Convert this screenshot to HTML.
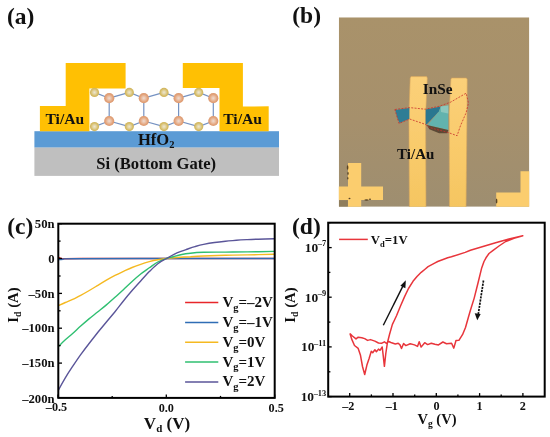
<!DOCTYPE html>
<html><head><meta charset="utf-8"><title>InSe FET figure</title>
<style>
html,body{margin:0;padding:0;background:#fff;}
body{width:550px;height:437px;overflow:hidden;}
svg{display:block;}
text{font-family:"Liberation Serif","Times New Roman",serif;font-weight:bold;fill:#111;}
.pl{font-size:23.5px;}
.tk{font-size:12.2px;}
</style></head><body>
<svg width="550" height="437" viewBox="0 0 550 437">
<defs>
<radialGradient id="gse" cx="50%" cy="50%" r="50%"><stop offset="0" stop-color="#ece6d2"/><stop offset="0.4" stop-color="#e2d3a0"/><stop offset="0.75" stop-color="#d6bd6a"/><stop offset="1" stop-color="#cfb35a"/></radialGradient>
<radialGradient id="gin" cx="50%" cy="50%" r="50%"><stop offset="0" stop-color="#eedcd2"/><stop offset="0.4" stop-color="#eabfa4"/><stop offset="0.75" stop-color="#e2a27a"/><stop offset="1" stop-color="#dc986e"/></radialGradient>
<filter id="bl" x="-5%" y="-5%" width="110%" height="110%"><feGaussianBlur stdDeviation="0.7"/></filter>
<filter id="bl2" x="-5%" y="-5%" width="110%" height="110%"><feGaussianBlur stdDeviation="0.75"/></filter>
<clipPath id="cpb"><rect x="338.8" y="17.3" width="190.4" height="189.4"/></clipPath>
<linearGradient id="gbg" x1="0" y1="0" x2="0" y2="1"><stop offset="0" stop-color="#a9926a"/><stop offset="0.55" stop-color="#a6906c"/><stop offset="1" stop-color="#9e8e70"/></linearGradient>
<linearGradient id="gel" x1="0" y1="0" x2="0" y2="1"><stop offset="0" stop-color="#fbd079"/><stop offset="0.5" stop-color="#f9cb6c"/><stop offset="1" stop-color="#f5c560"/></linearGradient>
</defs>
<rect width="550" height="437" fill="#fff"/>

<!-- (a) schematic -->
<text class="pl" x="7.0" y="23.5">(a)</text>
<rect x="34.4" y="147.3" width="244.6" height="28.6" fill="#bfbfbf"/>
<rect x="34.4" y="131.2" width="244.6" height="16.2" fill="#5b9bd5"/>
<polygon points="39.9,106 65.7,106 65.7,63.1 125.6,63.1 125.6,88.6 89.4,88.6 89.4,131.2 39.9,131.2" fill="#ffc003"/>
<polygon points="268.7,106.3 242.9,106.5 242.9,63.1 182.8,63.1 182.8,88 219.5,88 219.5,131.2 268.7,131.2" fill="#ffc003"/>
<g stroke="#7592c2" stroke-width="1.2"><line x1="94.5" y1="92.4" x2="109.2" y2="98.2"/><line x1="94.5" y1="126.6" x2="109.2" y2="121.0"/><line x1="129.3" y1="92.4" x2="143.8" y2="98.2"/><line x1="129.3" y1="126.6" x2="143.8" y2="121.0"/><line x1="129.3" y1="92.4" x2="109.2" y2="98.2"/><line x1="129.3" y1="126.6" x2="109.2" y2="121.0"/><line x1="164.0" y1="92.4" x2="178.6" y2="98.2"/><line x1="164.0" y1="126.6" x2="178.6" y2="121.0"/><line x1="164.0" y1="92.4" x2="143.8" y2="98.2"/><line x1="164.0" y1="126.6" x2="143.8" y2="121.0"/><line x1="198.7" y1="92.4" x2="213.3" y2="98.2"/><line x1="198.7" y1="126.6" x2="213.3" y2="121.0"/><line x1="198.7" y1="92.4" x2="178.6" y2="98.2"/><line x1="198.7" y1="126.6" x2="178.6" y2="121.0"/><line x1="109.2" y1="98.2" x2="109.2" y2="121.0"/><line x1="143.8" y1="98.2" x2="143.8" y2="121.0"/><line x1="178.6" y1="98.2" x2="178.6" y2="121.0"/><line x1="213.3" y1="98.2" x2="213.3" y2="121.0"/></g>
<circle cx="94.5" cy="92.4" r="4.6" fill="url(#gse)"/><circle cx="94.5" cy="126.6" r="4.6" fill="url(#gse)"/><circle cx="129.3" cy="92.4" r="4.6" fill="url(#gse)"/><circle cx="129.3" cy="126.6" r="4.6" fill="url(#gse)"/><circle cx="164.0" cy="92.4" r="4.6" fill="url(#gse)"/><circle cx="164.0" cy="126.6" r="4.6" fill="url(#gse)"/><circle cx="198.7" cy="92.4" r="4.6" fill="url(#gse)"/><circle cx="198.7" cy="126.6" r="4.6" fill="url(#gse)"/><circle cx="109.2" cy="98.2" r="5.1" fill="url(#gin)"/><circle cx="109.2" cy="121.0" r="5.1" fill="url(#gin)"/><circle cx="143.8" cy="98.2" r="5.1" fill="url(#gin)"/><circle cx="143.8" cy="121.0" r="5.1" fill="url(#gin)"/><circle cx="178.6" cy="98.2" r="5.1" fill="url(#gin)"/><circle cx="178.6" cy="121.0" r="5.1" fill="url(#gin)"/><circle cx="213.3" cy="98.2" r="5.1" fill="url(#gin)"/><circle cx="213.3" cy="121.0" r="5.1" fill="url(#gin)"/>
<text x="64.8" y="124.4" font-size="15.6" text-anchor="middle">Ti/Au</text>
<text x="242.6" y="124.4" font-size="15.6" text-anchor="middle">Ti/Au</text>
<text x="156.2" y="144.9" font-size="16.6" text-anchor="middle">HfO<tspan font-size="10.5" dy="3.4">2</tspan></text>
<text x="156.2" y="168.8" font-size="16.6" text-anchor="middle">Si (Bottom Gate)</text>

<!-- (b) optical image -->
<text class="pl" x="292.3" y="23.3">(b)</text>
<g clip-path="url(#cpb)">
<rect x="338.8" y="17.3" width="190.7" height="189.5" fill="url(#gbg)"/>
<g filter="url(#bl2)">
<polygon points="411,76.6 426.6,76.6 427.3,78 425.6,115 426,212 409.4,212 408.9,115 410.2,78" fill="url(#gel)" stroke="#d9a65c" stroke-width="0.6"/>
<polygon points="451.6,78 466.4,78 467.2,79.5 467,112 466,212 449.5,212 449.2,112 450.9,79.5" fill="url(#gel)" stroke="#d9a65c" stroke-width="0.6"/>
<polygon points="348,163 361.2,163 361.2,186.4 383,186.4 383,200.1 361.2,200.1 361.2,212 348,212 348,200.1 334,200.1 334,186.4 348,186.4" fill="#fbcd6e"/>
<polygon points="520.5,171.3 535,171.3 535,212 496.2,212 496.2,192.6 520.5,192.6" fill="#fbcd6e"/>
</g>
<g filter="url(#bl)">
<polygon points="395.2,110 409.4,108 409.4,118.8 399.6,123 397.4,118" fill="#2e7d95"/>
<polygon points="425.7,109.5 440.7,106.6 439.1,111.2 426.8,124.3 425.7,124.3" fill="#2a7790"/>
<polygon points="440.7,106.6 448.3,105.4 448.3,130 427.6,125.1 439.1,111.2" fill="#62b3ae"/>
<polygon points="440.7,106.6 448.3,105.4 448.3,113.5 441,112" fill="#8cc7bd"/>
<polygon points="426.8,125.1 448.3,130 447.3,133.3 439.1,133.3 429.3,129.2" fill="#5c4a36"/>
</g>
<g fill="#5a4426" filter="url(#bl)">
<ellipse cx="347.6" cy="167.5" rx="0.8" ry="2.2"/><ellipse cx="348" cy="173.5" rx="0.7" ry="1.4"/><ellipse cx="347.8" cy="178.3" rx="0.6" ry="1.2"/>
<ellipse cx="349.5" cy="198.5" rx="1" ry="0.7"/><ellipse cx="366.5" cy="200" rx="2.2" ry="0.8"/><ellipse cx="370" cy="199.3" rx="1" ry="0.7"/>
<ellipse cx="496.6" cy="201" rx="0.8" ry="2.6"/>
</g>
<rect x="338.8" y="200.3" width="9" height="6.5" fill="#8f7d5c" filter="url(#bl)"/>
<polygon points="394.9,109.5 409.6,107.6 425.2,109.2 439.1,106.3 450.5,102.2 466.1,93.2 468.5,103 466.1,112.8 460.4,125.9 457.1,135.7 448.1,132.5 429.3,127.5 425.2,124.3 409.6,119 399,123.5" fill="none" stroke="#c9302c" stroke-width="0.8" stroke-dasharray="2 1.3"/>
</g>
<text x="437.6" y="94.2" font-size="15.3" text-anchor="middle">InSe</text>
<text x="415.7" y="158.5" font-size="15" text-anchor="middle">Ti/Au</text>

<!-- (c) output curves -->
<text class="pl" x="7.3" y="234">(c)</text>
<path d="M58.4,257.3 C58.8,257.4 59.6,258.0 60.5,258.2 C61.4,258.4 60.8,258.6 64.0,258.7 C67.2,258.8 62.9,258.5 80.0,258.5 C97.1,258.5 134.2,258.5 166.5,258.5 C198.8,258.5 256.1,258.5 274.0,258.5" fill="none" stroke="#e8262a" stroke-width="1.4" stroke-linejoin="round"/>
<path d="M58.4,259.8 C59.2,259.7 60.2,259.4 63.0,259.2 C65.8,259.0 57.8,258.9 75.0,258.8 C92.2,258.7 133.3,258.6 166.5,258.5 C199.7,258.4 256.1,258.5 274.0,258.5" fill="none" stroke="#2f6db5" stroke-width="1.4" stroke-linejoin="round"/>
<path d="M58.4,305.6 C59.5,305.1 63.0,303.5 65.3,302.5 C67.6,301.5 69.5,300.9 72.1,299.7 C74.7,298.5 77.8,296.8 80.7,295.3 C83.6,293.8 86.4,292.2 89.3,290.5 C92.2,288.8 95.1,287.0 97.9,285.3 C100.8,283.6 103.6,281.9 106.4,280.2 C109.2,278.5 112.1,276.9 115.0,275.4 C117.9,273.9 120.8,272.6 123.6,271.3 C126.4,270.0 129.2,268.6 132.1,267.5 C134.9,266.4 137.8,265.4 140.7,264.4 C143.6,263.4 146.5,262.5 149.3,261.7 C152.2,260.9 154.9,260.3 157.8,259.8 C160.7,259.3 163.2,258.9 166.5,258.5 C169.8,258.1 173.5,257.8 177.5,257.5 C181.5,257.2 186.2,256.9 190.5,256.7 C194.8,256.4 197.8,256.2 203.6,256.0 C209.4,255.8 218.2,255.5 225.5,255.3 C232.8,255.1 239.2,255.1 247.3,254.9 C255.4,254.7 269.6,254.4 274.0,254.3" fill="none" stroke="#f5b921" stroke-width="1.4" stroke-linejoin="round"/>
<path d="M58.4,346.6 C59.5,345.5 63.0,341.9 65.3,339.8 C67.6,337.7 69.5,336.3 72.1,334.0 C74.7,331.7 77.8,328.7 80.7,326.1 C83.6,323.5 86.4,321.0 89.3,318.6 C92.2,316.2 95.1,314.0 97.9,311.7 C100.8,309.4 103.6,307.3 106.4,304.9 C109.2,302.5 112.1,299.9 115.0,297.3 C117.9,294.7 120.8,292.0 123.6,289.4 C126.4,286.8 129.2,284.1 132.1,281.5 C134.9,278.9 137.8,276.3 140.7,274.0 C143.6,271.7 146.5,269.8 149.3,267.8 C152.2,265.8 154.9,263.6 157.8,262.0 C160.7,260.4 163.9,259.4 166.5,258.5 C169.1,257.6 170.5,257.4 173.1,256.7 C175.7,256.0 178.9,255.1 181.8,254.5 C184.7,253.9 186.9,253.6 190.5,253.2 C194.1,252.8 197.8,252.5 203.6,252.3 C209.4,252.1 218.2,252.2 225.5,252.1 C232.8,252.0 239.2,252.0 247.3,251.9 C255.4,251.8 269.6,251.5 274.0,251.4" fill="none" stroke="#2fbf71" stroke-width="1.4" stroke-linejoin="round"/>
<path d="M58.4,390.2 C59.5,388.1 63.0,381.6 65.3,377.8 C67.6,374.0 69.5,371.1 72.1,367.2 C74.7,363.3 77.8,358.6 80.7,354.6 C83.6,350.6 86.4,346.9 89.3,343.2 C92.2,339.5 95.1,335.8 97.9,332.3 C100.8,328.8 103.6,325.4 106.4,322.0 C109.2,318.6 112.1,315.2 115.0,311.7 C117.9,308.1 120.8,304.2 123.6,300.7 C126.4,297.2 129.2,293.8 132.1,290.5 C134.9,287.2 137.8,284.0 140.7,280.9 C143.6,277.8 146.5,274.5 149.3,271.6 C152.2,268.7 154.9,265.9 157.8,263.7 C160.7,261.5 164.3,259.8 166.5,258.5 C168.7,257.2 169.1,257.0 170.9,256.0 C172.7,255.0 174.9,253.8 177.5,252.7 C180.1,251.6 183.3,250.5 186.2,249.5 C189.1,248.5 192.0,247.4 194.9,246.6 C197.8,245.8 200.3,245.1 203.6,244.4 C206.9,243.7 210.8,243.0 214.5,242.5 C218.2,242.0 221.8,241.6 225.5,241.2 C229.2,240.8 232.8,240.6 236.4,240.3 C240.0,240.0 243.7,239.8 247.3,239.6 C250.9,239.4 253.8,239.3 258.2,239.2 C262.6,239.1 271.4,238.9 274.0,238.8" fill="none" stroke="#5a5599" stroke-width="1.4" stroke-linejoin="round"/>

<rect x="58.3" y="223.7" width="216.4" height="174.2" fill="none" stroke="#000" stroke-width="2"/>
<g stroke="#000" stroke-width="1.3"><line x1="58.3" y1="223.7" x2="62" y2="223.7"/><line x1="58.3" y1="258.5" x2="62" y2="258.5"/><line x1="58.3" y1="293.4" x2="62" y2="293.4"/><line x1="58.3" y1="328.2" x2="62" y2="328.2"/><line x1="58.3" y1="363.1" x2="62" y2="363.1"/><line x1="58.3" y1="241.1" x2="60.6" y2="241.1"/><line x1="58.3" y1="276.0" x2="60.6" y2="276.0"/><line x1="58.3" y1="310.8" x2="60.6" y2="310.8"/><line x1="58.3" y1="345.6" x2="60.6" y2="345.6"/><line x1="58.0" y1="397.9" x2="58.0" y2="394.4"/><line x1="112.2" y1="397.9" x2="112.2" y2="395.9"/><line x1="166.3" y1="397.9" x2="166.3" y2="394.4"/><line x1="220.5" y1="397.9" x2="220.5" y2="395.9"/><line x1="274.7" y1="397.9" x2="274.7" y2="394.4"/></g>
<g class="tk" text-anchor="end" style="font-size:12.7px">
<text x="54.6" y="227.9">50n</text>
<text x="54.6" y="262.8">0</text>
<text x="54.6" y="297.5">–50n</text>
<text x="54.6" y="332.2">–100n</text>
<text x="54.6" y="366.9">–150n</text>
<text x="54.6" y="402.5">–200n</text>
</g>
<g class="tk" text-anchor="middle">
<text x="56.5" y="410.8">–0.5</text>
<text x="166.3" y="411.5">0.0</text>
<text x="276.2" y="411.5">0.5</text>
</g>
<text x="167" y="428.8" font-size="17" text-anchor="middle">V<tspan font-size="11" dy="3.5">d</tspan><tspan dy="-3.5"> (V)</tspan></text>
<text transform="translate(18.3,305) rotate(-90)" font-size="14.8" text-anchor="middle">I<tspan font-size="9.8" dy="3">d</tspan><tspan dy="-3"> (A)</tspan></text>
<g stroke-width="1.5" fill="none">
<line x1="185.1" y1="302.6" x2="218.3" y2="302.6" stroke="#e8262a"/>
<line x1="185.1" y1="322.5" x2="218.3" y2="322.5" stroke="#2f6db5"/>
<line x1="185.1" y1="342.3" x2="218.3" y2="342.3" stroke="#f5b921"/>
<line x1="185.1" y1="362.1" x2="218.3" y2="362.1" stroke="#2fbf71"/>
<line x1="185.1" y1="381.9" x2="218.3" y2="381.9" stroke="#5a5599"/>
</g>
<g font-size="15">
<text x="222.4" y="307.2">V<tspan font-size="10.5" dy="3.8">g</tspan><tspan dy="-3.8">=–2V</tspan></text>
<text x="222.4" y="327.0">V<tspan font-size="10.5" dy="3.8">g</tspan><tspan dy="-3.8">=–1V</tspan></text>
<text x="222.4" y="346.8">V<tspan font-size="10.5" dy="3.8">g</tspan><tspan dy="-3.8">=0V</tspan></text>
<text x="222.4" y="366.6">V<tspan font-size="10.5" dy="3.8">g</tspan><tspan dy="-3.8">=1V</tspan></text>
<text x="222.4" y="386.4">V<tspan font-size="10.5" dy="3.8">g</tspan><tspan dy="-3.8">=2V</tspan></text>
</g>

<!-- (d) transfer curve -->
<text class="pl" x="292" y="234">(d)</text>
<path d="M349.9,333.4 L352.4,336.0 L356.0,338.9 L358.2,337.2 L361.8,337.7 L364.7,338.6 L367.6,340.4 L370.5,339.6 L374.9,341.1 L378.5,343.0 L381.5,343.3 L384.4,341.8 L386.5,343.3 L388.7,341.5 L390.9,342.5 L395.3,344.0 L398.2,343.3 L400.0,344.9 L401.5,348.5 L403.6,343.5 L405.8,345.6 L410.2,343.7 L414.5,344.9 L417.5,346.4 L419.2,341.7 L421.1,347.1 L424.7,342.7 L427.6,344.6 L431.3,343.2 L434.9,344.2 L438.5,344.9 L442.9,342.0 L446.5,343.7 L451.6,343.2 L453.8,348.1 L456.0,340.5 L458.9,340.3 L462.5,334.7 L465.5,327.5 L468.4,317.3 L470.5,310.0 L474.2,298.1 L478.0,283.0 L481.7,267.9 L484.0,261.5 L486.0,257.8 L489.0,253.5 L493.1,250.3 L499.0,246.0 L505.7,241.5 L514.0,238.3 L522.8,235.7 L509.0,239.0 L495.6,242.7 L470.4,250.3 L465.2,252.4 L451.4,256.8 L447.7,257.8 L437.7,261.5 L435.1,262.9 L428.1,266.6 L425.0,269.2 L421.2,272.3 L417.0,276.5 L413.0,281.3 L408.5,288.5 L404.7,296.4 L400.5,306.0 L396.5,315.7 L394.5,320.0 L392.4,324.4 L389.5,334.5 L387.3,343.3 L385.8,353.5 L384.4,366.3 L383.3,356.4 L382.2,346.9 L380.0,350.3 L378.5,349.1 L376.4,351.7 L374.9,349.8 L372.7,352.7 L371.3,351.3 L369.1,358.5 L366.9,365.1 L364.7,374.5 L362.5,366.5 L360.4,354.9 L358.2,348.4 L354.5,345.5 L351.6,338.9 L349.9,333.4" fill="none" stroke="#e8353b" stroke-width="1.5" stroke-linejoin="round"/>
<rect x="328.2" y="222.7" width="216.5" height="173.9" fill="none" stroke="#000" stroke-width="2"/>
<g stroke="#000" stroke-width="1.3"><line x1="328.2" y1="396.6" x2="331.7" y2="396.6"/><line x1="328.2" y1="371.8" x2="330.4" y2="371.8"/><line x1="328.2" y1="346.9" x2="331.7" y2="346.9"/><line x1="328.2" y1="322.1" x2="330.4" y2="322.1"/><line x1="328.2" y1="297.2" x2="331.7" y2="297.2"/><line x1="328.2" y1="272.4" x2="330.4" y2="272.4"/><line x1="328.2" y1="247.6" x2="331.7" y2="247.6"/><line x1="328.2" y1="222.7" x2="330.4" y2="222.7"/><line x1="349.7" y1="396.6" x2="349.7" y2="393.1"/><line x1="371.4" y1="396.6" x2="371.4" y2="394.40000000000003"/><line x1="393.0" y1="396.6" x2="393.0" y2="393.1"/><line x1="414.7" y1="396.6" x2="414.7" y2="394.40000000000003"/><line x1="436.3" y1="396.6" x2="436.3" y2="393.1"/><line x1="457.9" y1="396.6" x2="457.9" y2="394.40000000000003"/><line x1="479.6" y1="396.6" x2="479.6" y2="393.1"/><line x1="501.2" y1="396.6" x2="501.2" y2="394.40000000000003"/><line x1="522.9" y1="396.6" x2="522.9" y2="393.1"/></g>
<g class="tk" text-anchor="end">
<text x="326.2" y="251.7" font-size="13.4">10<tspan font-size="8.4" dy="-5.4" dx="-0.4">–7</tspan></text>
<text x="326.2" y="301.5" font-size="13.4">10<tspan font-size="8.4" dy="-5.4" dx="-0.4">–9</tspan></text>
<text x="326.2" y="351.3" font-size="13.4">10<tspan font-size="8.4" dy="-5.4" dx="-0.4">–11</tspan></text>
<text x="326.2" y="401.1" font-size="13.4">10<tspan font-size="8.4" dy="-5.4" dx="-0.4">–13</tspan></text>
</g>
<g class="tk" text-anchor="middle">
<text x="348.3" y="410">–2</text>
<text x="391.8" y="410">–1</text>
<text x="436.6" y="410">0</text>
<text x="479.6" y="410">1</text>
<text x="522.9" y="410">2</text>
</g>
<text x="437" y="423.5" font-size="14.5" text-anchor="middle">V<tspan font-size="9.5" dy="3">g</tspan><tspan dy="-3"> (V)</tspan></text>
<text transform="translate(295.2,305) rotate(-90)" font-size="14.8" text-anchor="middle">I<tspan font-size="9.8" dy="3">d</tspan><tspan dy="-3"> (A)</tspan></text>
<line x1="339.1" y1="239.4" x2="367.8" y2="239.4" stroke="#e8353b" stroke-width="1.5"/>
<text x="370.8" y="243.6" font-size="12.8">V<tspan font-size="8.5" dy="3.6">d</tspan><tspan dy="-3.6">=1V</tspan></text>
<!-- arrows -->
<line x1="383.3" y1="325.3" x2="403.4" y2="285.1" stroke="#111" stroke-width="1.4"/>
<polygon points="405.8,280.3 405.4,288.2 400.4,285.7" fill="#111"/>
<line x1="483.5" y1="280.5" x2="478.3" y2="314" stroke="#111" stroke-width="1.7" stroke-dasharray="2.2 1"/>
<polygon points="477.3,320.2 474.7,313.2 480.7,314.1" fill="#111"/>
</svg>
</body></html>
